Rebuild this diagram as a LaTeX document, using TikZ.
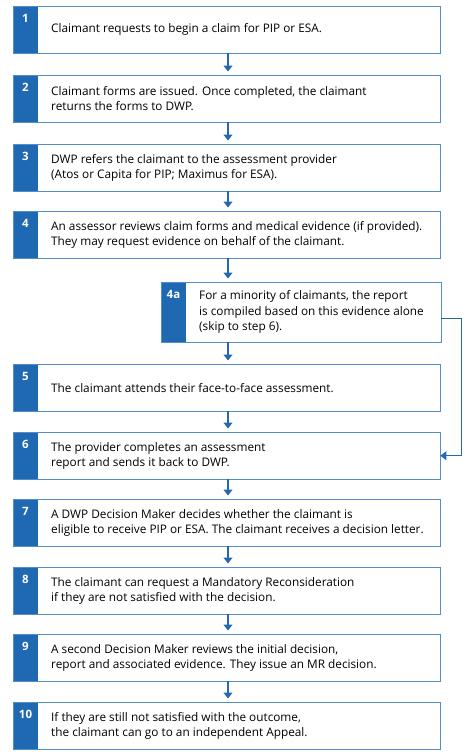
\documentclass[tikz,border=0pt]{standalone}
\usepackage{fontspec}
\setmainfont{Open Sans}
\usetikzlibrary{arrows.meta}
\definecolor{stripblue}{RGB}{31,104,178}
\definecolor{lineblue}{RGB}{84,142,202}
\definecolor{arrowblue}{RGB}{36,104,176}
\tikzset{
  stepframe/.style={anchor=north west, minimum height=47pt, minimum width=427pt, inner sep=0pt},
  steptext/.style={anchor=west, align=left, font=\fontsize{11.8}{15.5}\selectfont, inner sep=0pt},
  stepnum/.style={anchor=base, text=white, font=\fontsize{11.5}{12}\selectfont\bfseries, inner sep=0pt},
  flow/.style={draw=arrowblue, line width=1.1pt, -{Triangle[width=9pt,length=6pt]}},
}
% box with blue number strip: [options]{name}{number}{left}{top}{text}
\newcommand\claimstep[6][]{%
  \node[stepframe,#1] (#2) at (#4pt,-#5pt) {};
  \fill[stripblue] (#2.north west) rectangle ([xshift=25pt]#2.south west);
  \draw[lineblue, line width=1pt] (#2.north west) rectangle (#2.south east);
  \node[stepnum] (#2n) at ([xshift=12.5pt,yshift=-16pt]#2.north west) {#3};
  \node[steptext] (#2t) at ([xshift=38pt]#2.west) {#6};
}
\begin{document}
\begin{tikzpicture}
  \useasboundingbox (0,0) rectangle (474pt,-755pt);
  \coordinate (axis) at (228pt,0);
  \claimstep{b1}{1}{13}{6}{Claimant requests to begin a claim for PIP or ESA.}
  \claimstep{b2}{2}{13}{75}{Claimant forms are issued. Once completed, the claimant\\returns the forms to DWP.}
  \claimstep{b3}{3}{13}{144}{DWP refers the claimant to the assessment provider\\(Atos or Capita for PIP; Maximus for ESA).}
  \claimstep{b4}{4}{13}{211}{An assessor reviews claim forms and medical evidence (if provided).\\They may request evidence on behalf of the claimant.}
  \claimstep[minimum width=280pt, minimum height=60pt]{b4a}{4a}{161}{282}{For a minority of claimants, the report\\is compiled based on this evidence alone\\(skip to step 6).}
  \claimstep{b5}{5}{13}{364}{The claimant attends their face-to-face assessment.}
  \claimstep{b6}{6}{13}{432}{The provider completes an assessment\\report and sends it back to DWP.}
  \claimstep{b7}{7}{13}{499}{A DWP Decision Maker decides whether the claimant is\\eligible to receive PIP or ESA. The claimant receives a decision letter.}
  \claimstep{b8}{8}{13}{567}{The claimant can request a Mandatory Reconsideration\\if they are not satisfied with the decision.}
  \claimstep{b9}{9}{13}{634}{A second Decision Maker reviews the initial decision,\\report and associated evidence. They issue an MR decision.}
  \claimstep{b10}{10}{13}{702}{If they are still not satisfied with the outcome,\\the claimant can go to an independent Appeal.}
  % downward arrows
  \foreach \a/\b in {b1/b2,b2/b3,b3/b4,b4/b4a,b4a/b5,b5/b6,b6/b7,b7/b8,b8/b9,b9/b10}
    \draw[flow, shorten >=3.5pt] (\a.south -| axis) -- (\b.north -| axis);
  % skip from 4a to 6
  \draw[flow] ([yshift=-6pt]b4a.east) -- ++(20pt,0) |- (b6.east);
\end{tikzpicture}
\end{document}
